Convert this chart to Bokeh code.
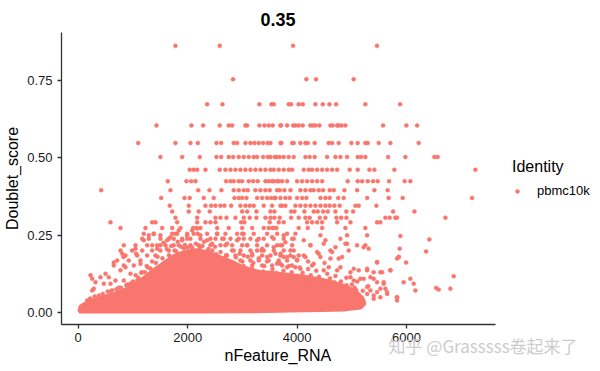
from bokeh.plotting import figure
from bokeh.models import Range1d, FixedTicker, Legend, LegendItem, Title, NumeralTickFormatter
from bokeh.embed import file_html
from bokeh.resources import INLINE

COLOR = "#F8766D"
FONT = "Liberation Sans"

title_text = "0.35"
x_label = "nFeature_RNA"
y_label = "Doublet_score"
legend_title = "Identity"
group_name = "pbmc10k"
watermark = "知乎 @Grasssss卷起来了"
x_ticks = [0, 2000, 4000, 6000]
y_ticks = [0.0, 0.25, 0.50, 0.75]

# quantised upper rows of Doublet_score and the nFeature_RNA of cells on each
row_scores = [0.861, 0.753, 0.672, 0.604, 0.547, 0.502, 0.461, 0.424, 0.395,
              0.370, 0.345, 0.326, 0.306, 0.291, 0.273]
row_x = [
    [1777, 2586, 3926, 5460],
    [2830, 4169, 4346, 5033],
    [2356, 2636, 3311, 3531, 3573, 3847, 3890, 4029, 4103, 4334, 4468, 4590, 4712, 5247, 5881],
    [1430, 2069, 2283, 2586, 2751, 2813, 3056, 3087, 3311, 3403, 3481, 3554, 3695, 3708, 3817,
     3927, 3969, 4029, 4103, 4243, 4285, 4334, 4407, 4608, 4650, 4731, 4760, 4809, 4882, 5571,
     5996, 6192],
    [1096, 1777, 2051, 2185, 2526, 2612, 2842, 2904, 3056, 3147, 3220, 3299, 3379, 3463, 3512,
     3695, 3713, 3909, 3938, 4060, 4152, 4194, 4321, 4577, 4639, 4760, 4992, 5107, 5247, 5290,
     5491, 5704, 6221],
    [1503, 1900, 2221, 2526, 2612, 2751, 2831, 2933, 3025, 3116, 3207, 3269, 3379, 3463, 3512,
     3591, 3622, 3682, 3755, 3847, 3938, 4152, 4230, 4321, 4548, 4700, 4791, 4913, 5107, 5169,
     5247, 5662, 5978, 6508, 6568],
    [2038, 2111, 2174, 2325, 2586, 2690, 2782, 2873, 2964, 3056, 3147, 3238, 3330, 3421, 3512,
     3573, 3664, 3755, 3847, 3909, 4121, 4212, 4274, 4365, 4457, 4548, 4639, 4731, 4961, 5107,
     5321, 5412, 5777, 7257],
    [1637, 1978, 2064, 2143, 2703, 2782, 2842, 2933, 2995, 3116, 3196, 3280, 3421, 3481, 3543,
     3573, 3635, 3664, 3726, 3817, 4000, 4091, 4183, 4274, 4365, 4457, 4924, 5107, 5187, 5290,
     5388, 5472, 5680, 5965, 6069],
    [420, 1686, 2192, 2398, 2617, 2842, 2933, 3025, 3098, 3238, 3330, 3421, 3500, 3635, 3682,
     3768, 3878, 4060, 4152, 4243, 4303, 4395, 4475, 4596, 4669, 4864, 5096, 5412, 5655],
    [1516, 1942, 2038, 2294, 2477, 2855, 2933, 2995, 3074, 3269, 3361, 3452, 3525, 3585, 3604,
     3695, 3786, 3865, 4000, 4091, 4170, 4426, 4517, 4596, 4750, 4851, 5279, 5673, 5929, 7196],
    [1673, 2020, 2325, 2429, 2508, 2599, 2672, 2795, 2964, 3056, 3134, 3207, 3390, 3543, 3695,
     3726, 3786, 3969, 4060, 4152, 4243, 4334, 4426, 4517, 4596, 4681, 4778, 5065, 5125, 5448],
    [1717, 2020, 2203, 2404, 2995, 3087, 3257, 3512, 3585, 3890, 3951, 4133, 4303, 4376, 4475,
     4559, 4700, 4900, 5023, 5753, 6143],
    [1777, 2174, 2508, 2599, 2709, 2873, 3025, 3134, 3257, 3421, 3512, 3585, 3682, 3890, 4029,
     4152, 4230, 4413, 4517, 4718, 4804, 4900, 5613, 5691, 5795, 5826, 6709],
    [590, 1352, 1412, 1808, 2174, 2325, 2416, 2508, 2977, 3037, 3500, 3664, 3755, 4183, 4274,
     4365, 4457, 4731, 4974, 5461, 5521],
    [773, 1229, 1534, 1717, 1869, 2100, 2161, 2234, 2539, 2751, 2995, 3178, 3390, 3481, 3543,
     3573, 3622, 4029, 4194, 4457, 4882, 5247],
]

# semi-dense band of cells just above the solid cloud
band_scores = [0.254, 0.238, 0.217, 0.200, 0.184, 0.168, 0.152]
band_x = [
    [1198, 1381, 1717, 1808, 1991, 2111, 2185, 2356, 2539, 2690, 2904, 3025, 3207, 3452, 3635,
     3817, 3969],
    [1169, 1290, 1503, 1655, 1746, 1900, 1991, 2234, 2416, 2508, 2660, 2782, 2933, 3025, 3147,
     3299, 3390, 3573, 3755, 3909],
    [833, 1047, 1260, 1443, 1595, 1746, 1837, 2051, 2203, 2416, 2599, 2690, 2813, 2995, 3087,
     3269, 3452, 3635, 3726, 3909],
    [773, 986, 1169, 1352, 1503, 1655, 2842, 2964, 3147, 3269, 3390, 3573, 3755, 3938],
    [864, 1078, 1260, 1412, 2721, 2873, 3025, 3178, 3361, 3512, 3695, 3878, 4029],
    [712, 925, 1138, 2964, 3147, 3299, 3481, 3664, 3817, 4000],
    [650, 833, 1016, 3178, 3361, 3543, 3726, 3909],
]

# scattered cells around the dense cloud
fringe_x = [650, 804, 827, 1047, 1059, 1138, 864, 773, 225, 256, 316, 407, 468, 499, 559, 285,
            256, 164, 347, 590, 681, 833, 955, 955, 1078, 1169, 1271, 1198, 1290, 1381, 1503,
            1352, 1443, 1503, 1626, 1686, 1777, 1837, 1900, 1991, 2082, 2174, 2234, 2356, 2448,
            2539, 2630, 2721, 2813, 2904, 2995, 3087, 3178, 3269, 3361, 3452, 3543, 3635,
            1560, 1700, 1820, 1950, 2050, 2150, 2270, 2380, 2500, 2600, 2700, 1620, 1760, 2880,
            3000, 2450, 2300, 2000, 1880, 1450, 1350, 1250, 1150, 1050, 1000, 900, 780, 700, 620,
            540, 450, 380, 300, 220, 180, 130,
            3755, 3938, 4121, 4426, 4517, 4791, 4913, 5279, 5887, 6416, 3573, 3695, 3878, 4243,
            4365, 4608, 4882, 5096, 5247, 5308, 5874, 6356, 3604, 3817, 4121, 4395, 4639, 4760,
            4943, 5856, 5826, 5461, 5991, 3695, 3969, 4303, 4486, 4731, 4974, 5125, 5279, 5399,
            5553, 5704, 6860, 5947, 6069, 6130, 6161, 6539, 6586, 6800, 5034, 5156, 5339, 5461,
            5582, 5613, 5644, 5461, 5339, 5279, 5521, 5399, 5826, 5826, 5156, 4851,
            3400, 3550, 3750, 3900, 4100, 4250, 4400, 4600, 4800, 5000, 3200, 3300, 3450, 3650,
            3850, 4050, 4200, 4350, 4550, 4700, 4900, 5050, 5200, 5300, 5100, 3100, 2950, 3350,
            3700, 4000, 4200, 4500,
            1100, 1220, 1320, 1420, 1540, 1660, 1790, 1930, 2080, 2220, 2360, 2520, 2680, 2840,
            3020, 3180, 3380, 3620, 3820, 4020, 4240, 4460, 4680, 4900, 5080, 600, 740, 880,
            3786, 4243, 4486, 4700, 4913, 5217, 3755, 3938, 4152, 4426, 4608, 4822, 5461, 5856,
            3817, 4060, 4274, 4577, 4791, 5034, 5279, 5521, 5704, 4974, 5217, 5399, 5582, 5279,
            5521, 5644, 5826, 5399, 5156, 4913, 4608]
fringe_y = [0.161, 0.190, 0.179, 0.206, 0.190, 0.157, 0.146, 0.136, 0.120, 0.109, 0.098, 0.114,
            0.093, 0.125, 0.114, 0.077, 0.071, 0.039, 0.044, 0.093, 0.103, 0.103, 0.125, 0.093,
            0.103, 0.130, 0.146, 0.233, 0.249, 0.254, 0.249, 0.217, 0.206, 0.217, 0.233, 0.243,
            0.254, 0.265, 0.233, 0.249, 0.265, 0.271, 0.249, 0.233, 0.222, 0.254, 0.238, 0.222,
            0.200, 0.233, 0.254, 0.217, 0.190, 0.233, 0.206, 0.179, 0.243, 0.157,
            0.225, 0.215, 0.228, 0.218, 0.238, 0.222, 0.215, 0.205, 0.212, 0.195, 0.185, 0.205,
            0.200, 0.178, 0.165, 0.200, 0.228, 0.210, 0.212, 0.180, 0.165, 0.150, 0.128, 0.120,
            0.100, 0.090, 0.080, 0.075, 0.072, 0.068, 0.060, 0.055, 0.052, 0.045, 0.030, 0.022,
            0.249, 0.238, 0.233, 0.249, 0.233, 0.238, 0.249, 0.249, 0.247, 0.236, 0.211, 0.217,
            0.200, 0.217, 0.195, 0.200, 0.222, 0.217, 0.217, 0.206, 0.206, 0.197, 0.190, 0.179,
            0.184, 0.190, 0.195, 0.174, 0.200, 0.179, 0.174, 0.161, 0.161, 0.157, 0.146, 0.157,
            0.136, 0.136, 0.130, 0.136, 0.136, 0.130, 0.130, 0.136, 0.117, 0.098, 0.109, 0.093,
            0.071, 0.079, 0.074, 0.077, 0.103, 0.109, 0.114, 0.098, 0.093, 0.077, 0.066, 0.066,
            0.071, 0.060, 0.049, 0.044, 0.039, 0.049, 0.039, 0.033,
            0.150, 0.140, 0.135, 0.130, 0.128, 0.120, 0.115, 0.110, 0.100, 0.090, 0.160, 0.175,
            0.165, 0.160, 0.150, 0.145, 0.140, 0.135, 0.125, 0.118, 0.112, 0.080, 0.070, 0.085,
            0.100, 0.180, 0.190, 0.200, 0.190, 0.170, 0.165, 0.160,
            0.112, 0.130, 0.142, 0.160, 0.175, 0.185, 0.198, 0.207, 0.210, 0.206, 0.198, 0.188,
            0.175, 0.160, 0.150, 0.140, 0.132, 0.127, 0.120, 0.118, 0.112, 0.105, 0.098, 0.088,
            0.072, 0.068, 0.080, 0.088,
            0.227, 0.217, 0.222, 0.211, 0.222, 0.211, 0.179, 0.179, 0.179, 0.179, 0.174, 0.179,
            0.163, 0.179, 0.146, 0.141, 0.152, 0.146, 0.146, 0.141, 0.141, 0.130, 0.136, 0.114,
            0.109, 0.109, 0.098, 0.082, 0.077, 0.060, 0.049, 0.055, 0.033, 0.039, 0.017]

# outline of the solid, fully over-plotted cloud of cells
dense_x = [24, 42, 133, 279, 499, 681, 864, 1010, 1138, 1266, 1375, 1506, 1634, 1741, 1871,
           2003, 2143, 2289, 2416, 2599, 2782, 2965, 3147, 3330, 3513, 3695, 3878, 4060, 4243,
           4426, 4608, 4791, 4974, 5101, 5193, 5229, 5156, 4882, 4426, 3878, 3147, 2234, 1321,
           407]
dense_y = [0.003, 0.019, 0.029, 0.039, 0.052, 0.061, 0.074, 0.087, 0.103, 0.120, 0.136, 0.152,
           0.168, 0.181, 0.191, 0.197, 0.201, 0.197, 0.191, 0.178, 0.165, 0.150, 0.138, 0.130,
           0.128, 0.124, 0.120, 0.118, 0.112, 0.106, 0.099, 0.090, 0.076, 0.062, 0.046, 0.029,
           0.016, 0.010, 0.008, 0.006, 0.004, 0.003, 0.003, 0.003]

pts_x = []
pts_y = []
for s, xs in list(zip(row_scores, row_x)) + list(zip(band_scores, band_x)):
    pts_x.extend(xs)
    pts_y.extend([s] * len(xs))
pts_x.extend(fringe_x)
pts_y.extend(fringe_y)

X_LO, X_HI = -305, 7625          # visible panel / axis extent
p = figure(width=600, height=371, output_backend="svg", toolbar_location=None,
           x_range=Range1d(X_LO, 9543), y_range=Range1d(-0.0388, 0.904),
           min_border_left=61, min_border_right=0, min_border_top=32, min_border_bottom=47)
p.title = None
p.grid.visible = False
p.outline_line_color = None
p.background_fill_color = "white"
p.border_fill_color = "white"

main_title = Title(text=title_text, align="left", offset=199, vertical_align="top",
                   standoff=9, text_font=FONT, text_font_size="18px",
                   text_font_style="bold", text_color="black")
p.add_layout(main_title, "above")

p.patch(dense_x, dense_y, fill_color=COLOR, line_color=COLOR, line_width=4)
r = p.scatter(pts_x, pts_y, size=4, fill_color=COLOR, line_color=COLOR, line_width=0.5)

for ax in (p.xaxis[0], p.yaxis[0]):
    ax.axis_line_color = "#333333"
    ax.axis_line_width = 1.3
    ax.major_tick_line_color = "#333333"
    ax.major_tick_line_width = 1.3
    ax.major_tick_out = 4
    ax.major_tick_in = 0
    ax.minor_tick_line_color = None
    ax.major_label_text_font = FONT
    ax.major_label_text_font_size = "13px"
    ax.major_label_text_color = "#1a1a1a"
    ax.axis_label_text_font = FONT
    ax.axis_label_text_font_size = "16px"
    ax.axis_label_text_font_style = "normal"
    ax.axis_label_text_color = "black"

p.yaxis.axis_label = y_label
p.xaxis.bounds = (X_LO, X_HI)
p.xaxis.ticker = FixedTicker(ticks=x_ticks)
p.yaxis.ticker = FixedTicker(ticks=y_ticks)
p.yaxis.formatter = NumeralTickFormatter(format="0.00")
p.xaxis.major_label_standoff = 4
p.yaxis.major_label_standoff = 5
p.yaxis.axis_label_standoff = 3

# x-axis title centred under the visible panel (not the wider frame)
xtitle = Title(text=x_label, align="left", offset=163, vertical_align="top", standoff=4,
               text_font=FONT, text_font_size="16px", text_font_style="normal",
               text_color="black")
p.add_layout(xtitle, "below")

legend = Legend(items=[LegendItem(label=group_name, renderers=[r])],
                location=(451, 126), title=legend_title,
                title_text_font=FONT, title_text_font_size="16px",
                title_text_font_style="normal", title_text_color="black",
                label_text_font=FONT, label_text_font_size="13px", label_text_color="black",
                background_fill_alpha=0, border_line_color=None,
                padding=0, margin=0, glyph_width=10, glyph_height=10,
                label_standoff=15, title_standoff=7)
p.add_layout(legend)

wm = Title(text=watermark, align="left", offset=327, vertical_align="top", standoff=-70,
           text_font="Noto Sans CJK SC", text_font_size="17px", text_font_style="normal",
           text_color="#cccccc")
p.add_layout(wm, "below")

open("out.html", "w").write(file_html(p, INLINE))
